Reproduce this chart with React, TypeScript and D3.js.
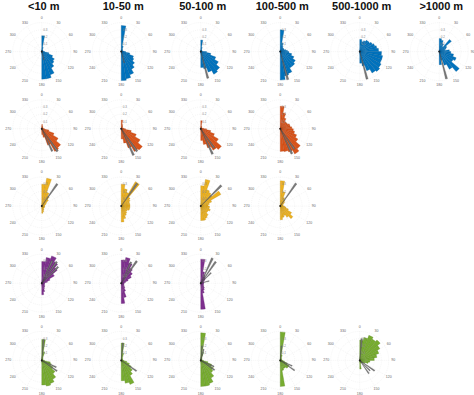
import * as d3 from 'd3';

// distance classes (columns) and one colour per row group
const distances = ['<10 m', '10-50 m', '50-100 m', '100-500 m', '500-1000 m', '>1000 m'];
const rowColors = ['#0072BD', '#D95319', '#EDB120', '#7E2F8E', '#77AC30'];
const grayColor = '#7a7a7a';

// angle ticks around each rose
const angleTicks = [0, 30, 60, 90, 120, 150, 180, 210, 240, 270, 300, 330];
const ringTicks = [0.25, 0.5, 0.75, 1];
const ringLabels = ['0.1', '0.2', '0.3', ''];

// relative frequency per 10 deg bin, 0..180 deg (coloured series)
const blueFreq = [
  [0.55, 0.15, 0.05, 0.05, 0.05, 0.05, 0.05, 0.05, 0.05, 0.1, 0.25, 0.4, 0.5, 0.55, 0.65, 0.85, 0.95, 0.95],
  [0.9, 0.2, 0.1, 0.05, 0.05, 0.05, 0.05, 0.05, 0.1, 0.15, 0.3, 0.45, 0.5, 0.6, 0.7, 0.85, 0.95, 1.0],
  [0.4, 0.15, 0.05, 0.05, 0.05, 0.05, 0.05, 0.05, 0.05, 0.2, 0.35, 0.55, 0.7, 0.85, 0.9, 0.75, 0.6, 0.55],
  [0.75, 0.3, 0.2, 0.15, 0.15, 0.15, 0.15, 0.2, 0.25, 0.3, 0.4, 0.5, 0.6, 0.65, 0.65, 0.8, 0.85, 0.98],
  [0.42, 0.35, 0.4, 0.45, 0.45, 0.5, 0.55, 0.6, 0.65, 0.75, 0.8, 0.8, 0.85, 0.9, 0.85, 0.7, 0.5, 0.4],
  [0.45, 0.4, 0.3, 0.2, 0.55, 0.3, 0.25, 0.2, 0.35, 0.4, 0.5, 0.62, 0.55, 0.9, 0.7, 0.5, 0.3, 0.45],
];
const blueGray = [
  [0, 0, 0, 0, 0, 0, 0, 0, 0, 0, 0, 0, 0, 0, 0, 0, 0.3, 0],
  [0, 0, 0, 0, 0, 0, 0, 0, 0, 0, 0, 0, 0, 0, 0, 0, 0.4, 0],
  [0, 0, 0, 0, 0, 0, 0, 0, 0, 0, 0, 0, 0, 0, 0, 0, 0.95, 0],
  [0, 0, 0, 0, 0, 0, 0, 0, 0, 0, 0, 0, 0, 0, 0, 0, 1.0, 0],
  [0, 0, 0, 0, 0, 0, 0, 0, 0, 0, 0, 0, 0, 0, 0, 0, 0.98, 0],
  [0, 0, 0, 0, 0, 0, 0, 0, 0, 0, 0, 0, 0, 0, 0, 0, 0.97, 0],
];

const orangeFreq = [
  [0.15, 0.1, 0.05, 0.05, 0.05, 0.05, 0.05, 0.05, 0.05, 0.1, 0.25, 0.45, 0.65, 0.85, 0.9, 0.6, 0.3, 0.2],
  [0.3, 0.15, 0.1, 0.05, 0.05, 0.05, 0.05, 0.05, 0.1, 0.15, 0.35, 0.55, 0.75, 0.95, 0.9, 0.7, 0.5, 0.35],
  [0.28, 0.1, 0.05, 0.05, 0.05, 0.05, 0.05, 0.05, 0.1, 0.2, 0.35, 0.5, 0.7, 0.93, 0.85, 0.7, 0.55, 0.4],
  [0.78, 0.55, 0.4, 0.3, 0.3, 0.3, 0.35, 0.35, 0.4, 0.45, 0.5, 0.6, 0.7, 0.9, 1.0, 0.85, 0.8, 0.78],
];
const orangeGray = [
  [0, 0, 0, 0, 0, 0, 0, 0, 0, 0, 0, 0, 0, 0, 0.95, 0.85, 0, 0],
  [0, 0, 0, 0, 0, 0, 0, 0, 0, 0, 0, 0, 0, 0, 0.95, 1.0, 0, 0],
  [0, 0, 0, 0, 0, 0, 0, 0, 0, 0, 0, 0, 0, 0, 0.8, 0.96, 0, 0],
  [0, 0, 0, 0, 0, 0, 0, 0, 0, 0, 0, 0, 0, 0, 0.85, 0.95, 0, 0],
];

const yellowFreq = [
  [0.75, 0.97, 0.5, 0.4, 0.3, 0.2, 0.15, 0.1, 0.1, 0.1, 0.1, 0.1, 0.1, 0.1, 0.1, 0.15, 0.2, 0.25],
  [0.75, 0.6, 0.5, 0.97, 0.4, 0.35, 0.3, 0.3, 0.3, 0.3, 0.3, 0.3, 0.25, 0.25, 0.3, 0.35, 0.45, 0.55],
  [0.7, 0.93, 0.6, 0.55, 0.5, 0.8, 0.4, 0.3, 0.25, 0.3, 0.3, 0.35, 0.3, 0.3, 0.4, 0.45, 0.5, 0.5],
  [0.87, 0.5, 0.3, 0.25, 0.2, 0.15, 0.1, 0.1, 0.1, 0.15, 0.2, 0.3, 0.45, 0.57, 0.45, 0.35, 0.4, 0.47],
];
const yellowGray = [
  [0, 0, 0, 0.93, 0, 0, 0, 0, 0, 0, 0, 0, 0, 0, 0, 0, 0, 0],
  [0, 0, 0, 0.95, 0, 0, 0, 0, 0, 0, 0, 0, 0, 0, 0, 0, 0, 0],
  [0, 0, 0, 0, 1.0, 0, 0, 0, 0, 0, 0, 0, 0, 0, 0, 0, 0, 0],
  [0, 0, 0, 0.95, 0, 0, 0, 0, 0, 0, 0, 0, 0, 0, 0, 0, 0, 0],
];

const purpleFreq = [
  [0.75, 0.9, 1.0, 0.85, 0.7, 0.5, 0.3, 0.2, 0.1, 0.1, 0.1, 0.1, 0.1, 0.15, 0.15, 0.2, 0.3, 0.4],
  [0.8, 0.9, 0.75, 0.6, 0.5, 0.4, 0.25, 0.15, 0.1, 0.1, 0.1, 0.1, 0.1, 0.15, 0.2, 0.3, 0.5, 0.7],
  [0.83, 0.4, 0.3, 0.25, 0.2, 0.15, 0.1, 0.1, 0.1, 0.1, 0.1, 0.1, 0.1, 0.15, 0.2, 0.25, 0.35, 0.9],
];
const purpleGray = [
  [0, 0, 0.85, 0.9, 0.8, 0, 0, 0, 0, 0, 0, 0, 0, 0, 0, 0, 0, 0],
  [0, 0, 0.8, 0.93, 0, 0, 0, 0, 0, 0, 0, 0, 0, 0, 0, 0, 0, 0],
  [0, 0, 0.95, 0.9, 0.5, 0, 0, 0.3, 0, 0, 0, 0, 0, 0, 0, 0, 0, 0],
];

const greenFreq = [
  [0.72, 0.3, 0.1, 0.05, 0.05, 0.05, 0.05, 0.05, 0.05, 0.1, 0.3, 0.35, 0.45, 0.6, 0.75, 0.85, 0.9, 0.85],
  [0.6, 0.25, 0.1, 0.05, 0.05, 0.05, 0.05, 0.05, 0.05, 0.1, 0.2, 0.3, 0.4, 0.5, 0.6, 0.88, 0.8, 0.7],
  [0.95, 0.3, 0.1, 0.05, 0.05, 0.05, 0.05, 0.05, 0.05, 0.1, 0.25, 0.4, 0.5, 0.55, 0.7, 0.85, 0.9, 0.9],
  [0.98, 0.2, 0.1, 0.05, 0.05, 0.05, 0.05, 0.05, 0.05, 0.1, 0.15, 0.25, 0.35, 0.35, 0.3, 0.3, 0.35, 0.9],
  [0.7, 0.8, 0.92, 0.85, 0.92, 0.8, 0.7, 0.6, 0.5, 0.35, 0.3, 0.2, 0.15, 0.1, 0.1, 0.1, 0.1, 0.3],
];
const greenGray = [
  [0.72, 0, 0, 0, 0, 0, 0, 0, 0, 0, 0, 0.55, 0.64, 0, 0, 0, 0, 0],
  [0.6, 0, 0, 0, 0, 0, 0, 0, 0, 0, 0, 0, 0.64, 0, 0, 0, 0, 0],
  [0.5, 0.4, 0, 0, 0, 0, 0, 0, 0, 0, 0, 0.5, 0.58, 0, 0, 0, 0, 0],
  [0.5, 0, 0, 0, 0, 0, 0, 0, 0, 0, 0, 0.45, 0.6, 0, 0, 0, 0, 0],
  [0.75, 0, 0, 0, 0, 0, 0, 0, 0, 0, 0, 0, 0.62, 0.5, 0.55, 0, 0, 0],
];

const rows = [
  { freq: blueFreq, gray: blueGray },
  { freq: orangeFreq, gray: orangeGray },
  { freq: yellowFreq, gray: yellowGray },
  { freq: purpleFreq, gray: purpleGray },
  { freq: greenFreq, gray: greenGray },
];

const WIDTH = 474;
const HEIGHT = 395;
const R = 29;
const BIN = 10;

const toRad = (deg: number) => (deg * Math.PI) / 180;

const Rose = ({ cx, cy, freq, gray, color }: any) => {
  const rScale = d3.scaleLinear().domain([0, 1]).range([0, R]);
  const arc = d3.arc<any>();
  const edge = d3.color(color)!.darker(0.7).toString();

  return (
    <g transform={`translate(${cx},${cy})`}>
      {ringTicks.map(t => (
        <circle key={`ring-${t}`} r={rScale(t)} fill="none" stroke="#e6e6e6" strokeWidth={0.4} strokeDasharray="1,1" />
      ))}
      {angleTicks.map(a => (
        <line
          key={`spoke-${a}`}
          x1={0}
          y1={0}
          x2={R * Math.sin(toRad(a))}
          y2={-R * Math.cos(toRad(a))}
          stroke="#e6e6e6"
          strokeWidth={0.4}
          strokeDasharray="1,1"
        />
      ))}
      {freq.map((v: number, i: number) => (
        <path
          key={`c-${i}`}
          d={arc({ innerRadius: 0, outerRadius: rScale(v), startAngle: toRad(i * BIN), endAngle: toRad((i + 1) * BIN) }) || ''}
          fill={color}
          stroke={edge}
          strokeWidth={0.3}
        />
      ))}
      {gray.map((v: number, i: number) =>
        v > 0 ? (
          <path
            key={`g-${i}`}
            d={arc({ innerRadius: 0, outerRadius: rScale(v), startAngle: toRad(i * BIN + 3), endAngle: toRad(i * BIN + 7) }) || ''}
            fill={grayColor}
            stroke="#3a3a3a"
            strokeWidth={0.3}
          />
        ) : null
      )}
      <circle r={1} fill="#222" />
      {ringTicks.map((t, i) => (
        <text key={`rl-${t}`} x={1.5} y={-rScale(t) + 1} fontSize={3} fill="#888" fontFamily="Arial, Liberation Sans, sans-serif">
          {ringLabels[i]}
        </text>
      ))}
      {angleTicks.map(a => (
        <text
          key={`al-${a}`}
          x={(R + 4.5) * Math.sin(toRad(a))}
          y={-(R + 4.5) * Math.cos(toRad(a))}
          fontSize={3.5}
          fill="#666"
          textAnchor="middle"
          dominantBaseline="middle"
          fontFamily="Arial, Liberation Sans, sans-serif"
        >
          {a}
        </text>
      ))}
    </g>
  );
};

const App = () => {
  const xScale = d3.scaleBand<string>().domain(distances).range([2, 479]);
  const yScale = d3.scaleBand<number>().domain(d3.range(rows.length)).range([13, 399]);

  return (
    <svg width={WIDTH} height={HEIGHT} style={{ position: 'absolute', left: 0, top: 0, background: '#fff' }}>
      {distances.map(d => (
        <text
          key={`title-${d}`}
          x={(xScale(d) || 0) + xScale.bandwidth() / 2 + 2}
          y={10}
          textAnchor="middle"
          fontSize={11}
          fontWeight="bold"
          fontFamily="Arial, Liberation Sans, sans-serif"
          fill="#111"
        >
          {d}
        </text>
      ))}
      {rows.map((row, ri) =>
        row.freq.map((f, ci) => (
          <Rose
            key={`rose-${ri}-${ci}`}
            cx={(xScale(distances[ci]) || 0) + xScale.bandwidth() / 2}
            cy={(yScale(ri) || 0) + yScale.bandwidth() / 2}
            freq={f}
            gray={row.gray[ci]}
            color={rowColors[ri]}
          />
        ))
      )}
    </svg>
  );
};

export default App;
